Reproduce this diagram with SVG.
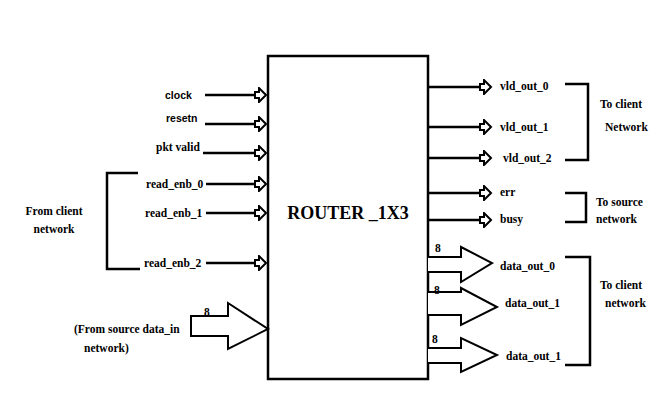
<svg xmlns="http://www.w3.org/2000/svg" width="658" height="408" viewBox="0 0 658 408">
<defs>
<style>
.t{font-family:"Liberation Serif",serif;font-weight:bold;font-size:11.5px;fill:#000}
.s{font-family:"Liberation Sans",sans-serif;font-weight:bold;font-size:10.5px;fill:#000}
.l{stroke:#000;stroke-width:2.5;fill:none}
.b{stroke:#000;stroke-width:2.5;fill:#fff}
.h{stroke:#000;stroke-width:2;fill:#fff;stroke-linejoin:miter}
</style>
<marker id="ah" markerUnits="userSpaceOnUse" markerWidth="14" markerHeight="16" refX="11" refY="7" orient="auto" viewBox="-1 -1 14 16">
<path d="M0,4 H4 V0 L11,7 L4,14 V10 H0 Z" fill="#fff" stroke="#000" stroke-width="2"/>
</marker>
</defs>
<rect width="658" height="408" fill="#fff"/>
<g id="router"><rect x="268" y="56" width="160" height="323" class="b"/>
<text x="348" y="219" text-anchor="middle" style="font-family:'Liberation Serif',serif;font-weight:bold;font-size:18px">ROUTER _1X3</text></g>
<g id="connectors">
<line x1="205" y1="95" x2="266" y2="95" class="l" marker-end="url(#ah)"/>
<line x1="205" y1="124" x2="266" y2="124" class="l" marker-end="url(#ah)"/>
<line x1="203" y1="153" x2="266" y2="153" class="l" marker-end="url(#ah)"/>
<line x1="206" y1="184" x2="266" y2="184" class="l" marker-end="url(#ah)"/>
<line x1="206" y1="213" x2="266" y2="213" class="l" marker-end="url(#ah)"/>
<line x1="206" y1="263" x2="266" y2="263" class="l" marker-end="url(#ah)"/>
<line x1="428" y1="87" x2="491" y2="87" class="l" marker-end="url(#ah)"/>
<line x1="428" y1="127" x2="491" y2="127" class="l" marker-end="url(#ah)"/>
<line x1="428" y1="158" x2="491" y2="158" class="l" marker-end="url(#ah)"/>
<line x1="428" y1="193" x2="491" y2="193" class="l" marker-end="url(#ah)"/>
<line x1="428" y1="220" x2="491" y2="220" class="l" marker-end="url(#ah)"/>
<path d="M191,316 H228 V303 L268,329 L228,349 V336 H191 Z" class="h"/>
<path d="M428,257 H461 V247 L492,263 L461,282 V272 H428" class="h"/>
<path d="M428,292 H461 V288 L497,307 L461,325 V315 H428" class="h"/>
<path d="M428,348 H461 V338 L497,355 L461,372 V363 H428" class="h"/>
<path d="M138,173 H107 V269 H140" class="l"/>
<path d="M565,84 H588 V160 H565" class="l"/>
<path d="M565,193 H586 V222 H565" class="l"/>
<path d="M565,257 H590 V365 H565" class="l"/>
</g>
<g id="labels">
<text x="165" y="99" class="s">clock</text>
<text x="166" y="122" class="s">resetn</text>
<text x="156" y="151" class="t">pkt valid</text>
<text x="146" y="188" class="t">read_enb_0</text>
<text x="145" y="217" class="t">read_enb_1</text>
<text x="144" y="267" class="t">read_enb_2</text>
<text x="54" y="215" class="t" text-anchor="middle">From client</text>
<text x="54" y="233" class="t" text-anchor="middle">network</text>
<text x="204" y="316" class="t">8</text>
<text x="74" y="333" class="t">(From source  data_in</text>
<text x="84" y="352" class="t">network)</text>
<text x="500" y="90" class="t">vld_out_0</text>
<text x="500" y="131" class="t">vld_out_1</text>
<text x="503" y="162" class="t">vld_out_2</text>
<text x="500" y="196" class="t">err</text>
<text x="500" y="223" class="t">busy</text>
<text x="600" y="108" class="t">To client</text>
<text x="605" y="131" class="t">Network</text>
<text x="596" y="206" class="t">To source</text>
<text x="596" y="223" class="t">network</text>
<text x="435" y="252" class="t">8</text>
<text x="434" y="294" class="t">8</text>
<text x="432" y="343" class="t">8</text>
<text x="500" y="270" class="t">data_out_0</text>
<text x="505" y="307" class="t">data_out_1</text>
<text x="506" y="360" class="t">data_out_1</text>
<text x="600" y="289" class="t">To client</text>
<text x="605" y="307" class="t">network</text>
</g>
</svg>
